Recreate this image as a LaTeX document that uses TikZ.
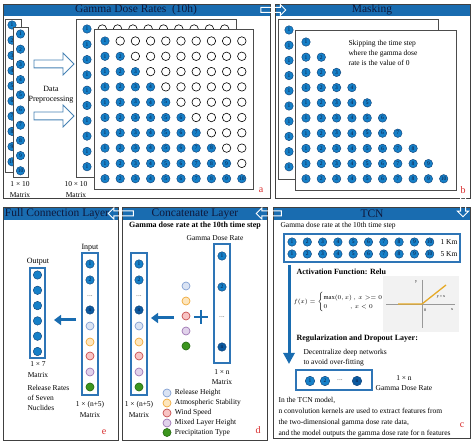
\documentclass[tikz,border=0pt]{standalone}
\usepackage{fontspec}
\setmainfont{Liberation Serif}
\usepackage{amsmath}
\usetikzlibrary{positioning}
\usetikzlibrary{calc}
\usetikzlibrary{shapes.arrows}
\usetikzlibrary{arrows.meta}
\definecolor{barblue}{RGB}{25,108,176}
\definecolor{bartextcol}{RGB}{15,25,60}
\definecolor{dotblue}{RGB}{22,128,200}
\definecolor{dotedge}{RGB}{10,60,115}
\definecolor{dotdark}{RGB}{12,90,160}
\definecolor{boxblue}{RGB}{46,117,182}
\definecolor{steelarrow}{RGB}{70,130,180}
\definecolor{tagred}{RGB}{215,40,40}
\definecolor{reluorange}{RGB}{230,170,40}
\definecolor{rhfill}{RGB}{218,227,243}
\definecolor{rhedge}{RGB}{130,160,210}
\definecolor{asfill}{RGB}{253,230,190}
\definecolor{asedge}{RGB}{240,170,60}
\definecolor{wsfill}{RGB}{248,196,196}
\definecolor{wsedge}{RGB}{200,80,80}
\definecolor{mlfill}{RGB}{225,210,235}
\definecolor{mledge}{RGB}{160,120,180}
\definecolor{ptfill}{RGB}{60,150,30}
\definecolor{ptedge}{RGB}{40,110,20}
\tikzset{panel/.style={draw=black!75, line width=0.8pt}}
\tikzset{titlebar/.style={fill=barblue}}
\tikzset{bartext/.style={font=\fontsize{11.5}{12}\selectfont, text=bartextcol}}
\tikzset{bluedot/.style={circle, draw=dotedge, fill=dotblue, inner sep=0pt, minimum size=8.5pt, font=\fontsize{5.5}{5.5}\selectfont, text=bartextcol}}
\tikzset{ndot/.style={bluedot, fill=dotdark, text=bartextcol}}
\tikzset{emptydot/.style={circle, draw=black, line width=0.6pt, inner sep=0pt, minimum size=8.5pt}}
\tikzset{matbox/.style={draw=black!70, fill=white, line width=0.7pt}}
\tikzset{bluebox/.style={draw=boxblue, line width=1.1pt}}
\tikzset{smalltext/.style={font=\fontsize{7.5}{10}\selectfont}}
\tikzset{boldtext/.style={font=\fontsize{8}{10}\selectfont\bfseries}}
\tikzset{tag/.style={font=\fontsize{10}{10}\selectfont, text=tagred}}
\tikzset{hollowarrow/.style={single arrow, draw=steelarrow, fill=white, line width=0.8pt, inner sep=3.5pt, single arrow head extend=7pt, minimum height=40pt}}
\tikzset{bararrow/.style={single arrow, draw=white, line width=1pt, inner sep=2pt, single arrow head extend=3pt, minimum height=25pt}}
\tikzset{bigarrow/.style={draw=barblue, line width=3pt, -{Triangle[length=7pt,width=10pt]}}}
\tikzset{legdot/.style={circle, inner sep=0pt, minimum size=8pt, line width=0.7pt}}
\begin{document}
\begin{tikzpicture}[x=1pt,y=-1pt]
\useasboundingbox (0,0) rectangle (474,443);

% panel frames and title bars
\fill[titlebar] (3,4) rectangle (270,16);
\fill[titlebar] (275,4) rectangle (470,16);
\fill[titlebar] (3,207) rectangle (118,220);
\fill[titlebar] (122,207) rectangle (267,220);
\fill[titlebar] (273,207) rectangle (470,220);
\draw[panel] (3,4) rectangle (270,198);
\draw[panel] (275,4) rectangle (470,198);
\draw[panel] (3,207) rectangle (118,440);
\draw[panel] (122,207) rectangle (267,440);
\draw[panel] (273,207) rectangle (470,438);

\node[bartext] (titleA) at (136,10) {Gamma Dose Rates\enspace(10h)};
\node[bartext] (titleB) at (372,10) {Masking};
\node[bartext] (titleE) at (57,213.5) {Full Connection Layer};
\node[bartext] (titleD) at (195,213.5) {Concatenate Layer};
\node[bartext] (titleC) at (372,213.5) {TCN};

\node[bararrow] (abArrow) at (272,10) {};
\node[bararrow, shape border rotate=180] (edArrow) at (122,213.5) {};
\node[bararrow, shape border rotate=180] (dcArrow) at (270,213.5) {};
\node[bararrow, shape border rotate=270, minimum height=19pt] (bcArrow) at (463,206) {};

% panel a
\draw[matbox] (5,19) rectangle (21,172);
\foreach \k in {1,...,10}
  \node[bluedot] (ba\k) at (12,{25+15.2*(\k-1)}) {\k};
\draw[matbox] (13,27) rectangle (28,177);
\foreach \k in {1,...,10}
  \node[bluedot] (fa\k) at (20.5,{34+15.2*(\k-1)}) {\k};
\node[smalltext] (colA) at (20,184) {1 × 10};
\node[smalltext] (colAm) at (20,195) {Matrix};

\node[hollowarrow] (prepA) at (52,64) {};
\node[hollowarrow] (prepB) at (52,116) {};
\node[smalltext, font=\fontsize{8}{10}\selectfont, align=center] (prep) at (51,95) {Data\\Preprocessing};

\draw[matbox] (76,19) rectangle (236,177);
\foreach \r in {1,...,10}
  \node[bluedot] (bg-\r) at (87,{29+15.3*(\r-1)}) {1};
\foreach \c in {2,...,10}
  \node[emptydot] (bt-\c) at ({87+15.3*(\c-1)},29) {};
\draw[matbox] (94,29) rectangle (253,189);
\foreach \r in {1,...,10}{
  \foreach \c in {1,...,10}{
    \ifnum\c>\r
      \node[emptydot] (g-\r-\c) at ({105+15.2*(\c-1)},{41+15.3*(\r-1)}) {};
    \else
      \node[bluedot] (g-\r-\c) at ({105+15.2*(\c-1)},{41+15.3*(\r-1)}) {\c};
    \fi
  }
}
\node[smalltext] (gridA) at (76,184) {10 × 10};
\node[smalltext] (gridAm) at (76,195) {Matrix};
\node[tag] (tagA) at (261,190) {a};

% panel b
\draw[matbox] (278,19) rectangle (438,179);
\foreach \r in {1,...,10}
  \node[bluedot] (mb-\r) at (289,{30+15.2*(\r-1)}) {1};
\draw[matbox] (295,30) rectangle (456,190);
\foreach \r in {1,...,10}{
  \foreach \c in {1,...,\r}{
    \node[bluedot] (m-\r-\c) at ({306+15.3*(\c-1)},{42+15.2*(\r-1)}) {\c};
  }
}
\node[smalltext, align=left, anchor=north west] (skip) at (345,37)
  {Skipping the time step\\where the gamma dose\\rate is the value of 0};
\node[tag] (tagB) at (463,190) {b};

% panel e
\node[smalltext, font=\fontsize{8}{10}\selectfont] (outL) at (38,262) {Output};
\draw[bluebox] (30,268) rectangle (45,358);
\foreach \k in {1,...,6}
  \node[bluedot] (out\k) at (37.5,{275+15.3*(\k-1)}) {};
\node[smalltext] (outA) at (38,364) {1 × 7};
\node[smalltext] (outAm) at (38,375) {Matrix};
\node[smalltext, align=left, anchor=north west] (relR) at (24,382) {Release Rates\\of Seven\\Nuclides};

\node[smalltext, font=\fontsize{8}{10}\selectfont] (inL) at (90,248) {Input};
\draw[bluebox] (82,253) rectangle (98,395);
\node[bluedot] (in1) at (90,264) {1};
\node[bluedot] (in2) at (90,280) {2};
\node[smalltext, text=black!60] (indots) at (90,296) {...};
\node[ndot] (inn) at (90,310) {n};
\node[legdot, draw=rhedge, fill=rhfill] (inrh) at (90,326) {};
\node[legdot, draw=asedge, fill=asfill] (inas) at (90,342) {};
\node[legdot, draw=wsedge, fill=wsfill] (inws) at (90,356) {};
\node[legdot, draw=mledge, fill=mlfill] (inml) at (90,372) {};
\node[legdot, draw=ptedge, fill=ptfill] (inpt) at (90,387) {};
\node[smalltext] (inA) at (90,405) {1 × (n+5)};
\node[smalltext] (inAm) at (90,415) {Matrix};
\coordinate (eArrS) at (76,320);
\coordinate (eArrE) at (54,320);
\draw[bigarrow] (eArrS) -- (eArrE);
\node[tag] (tagE) at (104,432) {e};

% panel d
\node[boldtext] (gdrD) at (195,226) {Gamma dose rate at the 10th time step};
\node[smalltext] (gdrT) at (215,238) {Gamma Dose Rate};
\draw[bluebox] (131,253) rectangle (147,395);
\node[bluedot] (cc1) at (139,264) {1};
\node[bluedot] (cc2) at (139,280) {2};
\node[smalltext, text=black!60] (ccdots) at (139,296) {...};
\node[ndot] (ccn) at (139,310) {n};
\node[legdot, draw=rhedge, fill=rhfill] (ccrh) at (139,326) {};
\node[legdot, draw=asedge, fill=asfill] (ccas) at (139,342) {};
\node[legdot, draw=wsedge, fill=wsfill] (ccws) at (139,356) {};
\node[legdot, draw=mledge, fill=mlfill] (ccml) at (139,372) {};
\node[legdot, draw=ptedge, fill=ptfill] (ccpt) at (139,387) {};
\node[smalltext] (ccA) at (139,405) {1 × (n+5)};
\node[smalltext] (ccAm) at (139,415) {Matrix};
\coordinate (dArrS) at (174,318);
\coordinate (dArrE) at (151,318);
\draw[bigarrow] (dArrS) -- (dArrE);

\node[legdot, draw=rhedge, fill=rhfill] (vrh) at (186,286) {};
\node[legdot, draw=asedge, fill=asfill] (vas) at (186,301) {};
\node[legdot, draw=wsedge, fill=wsfill] (vws) at (186,316) {};
\node[legdot, draw=mledge, fill=mlfill] (vml) at (186,331) {};
\node[legdot, draw=ptedge, fill=ptfill] (vpt) at (186,346) {};
\draw[barblue, line width=2.6pt] (194,317) -- (208,317) (201,310) -- (201,324);

\draw[bluebox] (214,244) rectangle (230,363);
\node[bluedot] (gd1) at (222,256) {1};
\node[bluedot] (gd2) at (222,287) {2};
\node[smalltext, text=black!60] (gddots) at (222,317) {...};
\node[ndot] (gdn) at (222,347) {n};
\node[smalltext] (gdA) at (222,372) {1 × n};
\node[smalltext] (gdAm) at (222,382) {Matrix};

\node[legdot, draw=rhedge, fill=rhfill] (lrh) at (167,393) {};
\node[legdot, draw=asedge, fill=asfill] (las) at (167,403) {};
\node[legdot, draw=wsedge, fill=wsfill] (lws) at (167,413) {};
\node[legdot, draw=mledge, fill=mlfill] (lml) at (167,423) {};
\node[legdot, draw=ptedge, fill=ptfill] (lpt) at (167,432.5) {};
\node[smalltext, anchor=west] at (lrh.east) {Release Height};
\node[smalltext, anchor=west] at (las.east) {Atmospheric Stability};
\node[smalltext, anchor=west] at (lws.east) {Wind Speed};
\node[smalltext, anchor=west] at (lml.east) {Mixed Layer Height};
\node[smalltext, anchor=west] at (lpt.east) {Precipitation Type};
\node[tag] (tagD) at (258,430) {d};

% panel c
\node[smalltext, anchor=west] (gdrC) at (277,226) {Gamma dose rate at the 10th time step};
\draw[bluebox] (284,234) rectangle (460,262);
\foreach \c in {1,...,10}{
  \node[bluedot] (k1-\c) at ({292+15.3*(\c-1)},242) {\c};
  \node[bluedot] (k5-\c) at ({292+15.3*(\c-1)},254) {\c};
}
\node[smalltext, anchor=west] (km1) at (437,242) {1 Km};
\node[smalltext, anchor=west] (km5) at (437,254) {5 Km};

\coordinate (cArrS) at (289,265);
\coordinate (cArrE) at (289,364);
\draw[bigarrow, -{Triangle[length=11pt,width=11pt]}] (cArrS) -- (cArrE);

\node[boldtext, anchor=west] (act) at (293,272) {Activation Function: Relu};
\node[anchor=west, font=\fontsize{6.5}{8}\selectfont] (relu) at (290,302)
  {$f(x)=\begin{cases}\max(0,x)\ ,\, x>=0\\ 0\qquad\quad\ \ ,\, x<0\end{cases}$};
\fill[black!5] (383,276) rectangle (459,332);
\draw[black!40, line width=0.7pt] (386,304) -- (455,304) (422,280) -- (422,328);
\draw[reluorange, line width=1.3pt] (398,304) -- (422,304) -- (446,285);
\node[font=\fontsize{4}{4}\selectfont] (ry) at (416,282) {y};
\node[font=\fontsize{4}{4}\selectfont] (r0) at (425,310) {0};
\node[font=\fontsize{4}{4}\selectfont] (rx) at (452,310) {x};
\node[font=\fontsize{4}{4}\selectfont] (ryx) at (441,297) {y = x};

\node[boldtext, anchor=west] (reg) at (293,339) {Regularization and Dropout Layer:};
\node[smalltext, align=left, anchor=north west] (dec) at (300,346)
  {Decentralize deep networks\\to avoid over-fitting};
\draw[bluebox] (296,370) rectangle (372,390);
\node[bluedot, minimum size=9.5pt] (o1) at (310,381) {1};
\node[bluedot, minimum size=9.5pt] (o2) at (325,381) {2};
\node[smalltext, text=black!60] (odots) at (340,380) {...};
\node[ndot, minimum size=9.5pt] (on) at (357,381) {n};
\node[smalltext, align=center] (oA) at (404,383) {1 × n\\Gamma Dose Rate};
\node[smalltext, align=left, anchor=north west, font=\fontsize{7.5}{11}\selectfont] (tcnT) at (275,394)
  {In the TCN model,\\n convolution kernels are used to extract features from\\the two-dimensional gamma dose rate data,\\and the model outputs the gamma dose rate for n features};
\node[tag] (tagC) at (462,425) {c};

\end{tikzpicture}
\end{document}
